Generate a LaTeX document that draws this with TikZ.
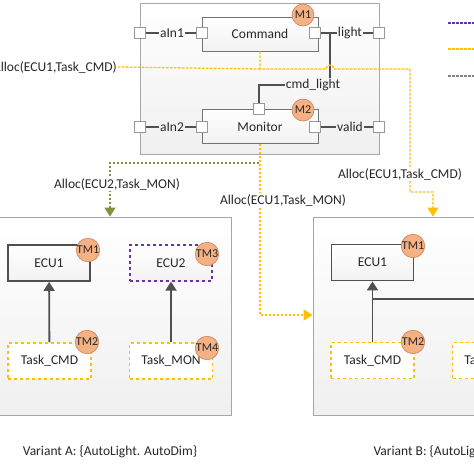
\documentclass[tikz,border=0pt]{standalone}
\usepackage{fontspec}
\setmainfont{Carlito}
\usepackage{tikz}
\usetikzlibrary{arrows.meta,positioning}

\definecolor{allocyellow}{RGB}{255,192,0}
\definecolor{allocolive}{RGB}{130,145,60}
\definecolor{hwpurple}{RGB}{112,48,160}
\definecolor{tagorange}{RGB}{244,177,131}
\definecolor{tagrim}{RGB}{200,130,90}
\definecolor{linegray}{RGB}{80,80,80}
\definecolor{textgray}{RGB}{40,40,40}

\begin{document}
\begin{tikzpicture}[x=1pt,y=-1pt,
       font=\fontsize{13.5}{16}\selectfont, text=textgray,
       panel/.style={draw=gray!70, line width=0.8pt, top color=white, bottom color=gray!12, inner sep=0pt},
       comp/.style={draw=gray!90!black, line width=0.9pt, top color=white, bottom color=gray!10, minimum width=116pt, minimum height=34pt},
       port/.style={draw=gray!80, line width=0.7pt, fill=white, minimum size=11pt, inner sep=0pt},
       tag/.style={circle, draw=tagrim, line width=0.6pt, fill=tagorange, minimum size=22pt, inner sep=0pt, font=\fontsize{12}{13}\selectfont},
       hw/.style={draw=linegray, line width=1.8pt, top color=white, bottom color=gray!10, minimum width=82pt, minimum height=36pt},
       task/.style={draw=allocyellow, dashed, line width=1.2pt, fill=white, minimum width=83pt, minimum height=36pt},
       wire/.style={draw=linegray, line width=1.3pt},
       alloc/.style={line width=1.3pt, dash pattern=on 2.5pt off 1.5pt},
       tip/.style={-{Triangle[width=11pt,length=9pt]}},
       lbl/.style={inner sep=1pt}]
       \useasboundingbox (0,0) rectangle (474,474);

       % panels
       \node[panel, minimum width=239pt, minimum height=151pt] (sys) at (259.5,78.5) {};
       \node[panel, minimum width=236pt, minimum height=198pt] (panelA) at (113,316) {};
       \node[panel, minimum width=177pt, minimum height=198pt] (panelB) at (401.5,316) {};

       % software components
       \node[comp] (Command) at (260,34) {Command};
       \node[comp] (Monitor) at (260,126.5) {Monitor};
       \node[port] (inA) at (140,33) {};
       \node[port] (inB) at (140,127) {};
       \node[port] (outA) at (379,33) {};
       \node[port] (outB) at (379,127) {};
       \node[port] (cmdIn) at (202,33) {};
       \node[port] (cmdOut) at (315,33) {};
       \node[port] (monIn) at (202,127) {};
       \node[port] (monOut) at (315,127) {};
       \node[port] (monTop) at (259,109) {};
       \node[lbl] (aIn1) at (172,33) {aIn1};
       \node[lbl] (aIn2) at (172,127) {aIn2};
       \node[lbl] (light) at (350,33) {light};
       \node[lbl] (valid) at (350,127) {valid};
       \node[lbl] (cmdlight) at (313,85) {cmd\_light};
       \coordinate (jlight) at (330,33);

       \draw[wire] (inA) -- (aIn1) -- (cmdIn);
       \draw[wire] (inB) -- (aIn2) -- (monIn);
       \draw[wire] (cmdOut) -- (light) -- (outA);
       \draw[wire] (monOut) -- (valid) -- (outB);
       \draw[wire] (jlight) -- (jlight |- cmdlight.north);
       \draw[wire] (monTop.north) |- (cmdlight.west);

       \node[tag] (M1) at (303,15) {M1};
       \node[tag] (M2) at (303,110) {M2};

       % variant A
       \node[hw] (ecuA1) at (49,263) {ECU1};
       \node[hw, draw=hwpurple, dashed, line width=1.2pt] (ecuA2) at (171,263) {ECU2};
       \node[task] (tcmdA) at (49.5,361) {Task\_CMD};
       \node[task] (tmonA) at (171,361) {Task\_MON};
       \draw[wire, line width=1.8pt, tip] (tcmdA) -- (ecuA1);
       \draw[wire, line width=1.8pt, tip] (tmonA) -- (ecuA2);
       \node[tag] (tmA1) at (88,250) {TM1};
       \node[tag] (tmA3) at (207,254) {TM3};
       \node[tag] (tmA2) at (87,342) {TM2};
       \node[tag] (tmA4) at (207,348) {TM4};

       % variant B
       \node[hw] (ecuB1) at (372.5,262.5) {ECU1};
       \node[task] (tcmdB) at (372.5,360.5) {Task\_CMD};
       \node[task] (tmonB) at (494,360.5) {Task\_MON};
       \coordinate (jB) at (373,299);
       \draw[wire, line width=1.8pt, tip] (tcmdB) -- (ecuB1);
       \draw[wire, line width=1.8pt] (tmonB.north) |- (jB);
       \node[tag] (tmB1) at (413,246) {TM1};
       \node[tag] (tmB2) at (413,342) {TM2};

       % allocations
       \node[lbl, anchor=east] (allocCMD) at (118,67) {Alloc(ECU1,Task\_CMD)};
       \coordinate (jcmd) at (260,69);
       \coordinate (hop) at (326,69);
       \draw[alloc, allocyellow] (allocCMD.east) -- (jcmd);
       \draw[alloc, allocyellow, tip] (Command.south) -- (jcmd) -- (hop) arc (180:360:4) -- (410,69) |- (433,192) -- (panelB.north -| 433,0);
       \draw[alloc, allocolive, tip] (Monitor.south) -- (260,163) -| (panelA.north -| 110,0);
       \draw[alloc, allocyellow, tip] (Monitor.south) |- (panelB.west |- 0,315);
       \node[lbl, fill=white] (allocECU2) at (117,184) {Alloc(ECU2,Task\_MON)};
       \node[lbl, fill=white] (allocMON) at (283,200) {Alloc(ECU1,Task\_MON)};
       \node[lbl, fill=white] (allocB) at (400,174) {Alloc(ECU1,Task\_CMD)};

       % legend
       \draw[alloc, hwpurple] (448,23) -- (480,23);
       \draw[alloc, allocyellow] (448,49) -- (480,49);
       \draw[alloc, gray] (448,76) -- (480,76);

       % variant captions
       \node (capA) at (110,452) {Variant A: \{AutoLight. AutoDim\}};
       \node[anchor=west] (capB) at (370,452) {Variant B: \{AutoLight\}};
\end{tikzpicture}
\end{document}
